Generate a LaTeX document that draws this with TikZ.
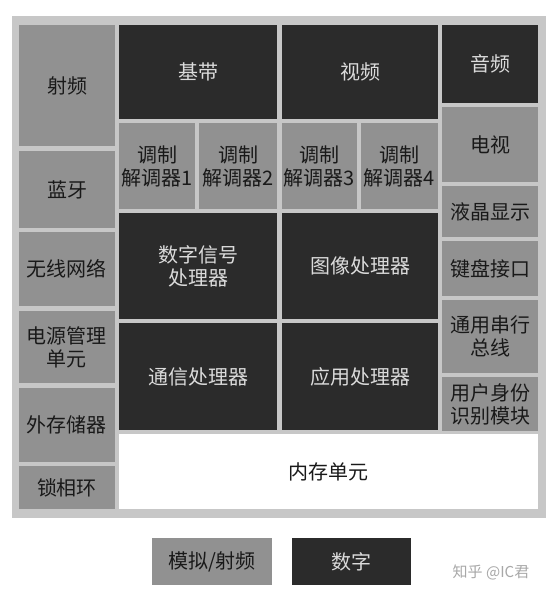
\documentclass[tikz,border=0pt]{standalone}
\usepackage{fontspec}
\newfontfamily\cjk{Noto Sans CJK SC}
\definecolor{framegray}{gray}{0.78}
\definecolor{anagray}{gray}{0.57}
\definecolor{diggray}{gray}{0.17}
\definecolor{digtext}{gray}{0.86}
\definecolor{marktext}{gray}{0.66}
\tikzset{
  blk/.style={draw=none, inner sep=0pt, outer sep=0pt, anchor=north west, align=center,
              font=\cjk\fontsize{20}{23}\selectfont},
  ana/.style={blk, fill=anagray, text=black!90},
  dig/.style={blk, fill=diggray, text=digtext},
  mem/.style={blk, fill=white, text=black!90},
  frm/.style={fill=framegray, draw=none},
}
\begin{document}
\begin{tikzpicture}[x=1pt, y=-1pt]
\useasboundingbox (0,0) rectangle (549,595);
\fill[white] (0,0) rectangle (549,595);
\fill[frm] (12,16) rectangle (546,518);
% left column
\node[ana, minimum width=96pt, minimum height=121pt] (rf)   at (19,25)  {射频};
\node[ana, minimum width=96pt, minimum height=77pt]  (bt)   at (19,151) {蓝牙};
\node[ana, minimum width=96pt, minimum height=74pt]  (wlan) at (19,232) {无线网络};
\node[ana, minimum width=96pt, minimum height=72pt]  (pmu)  at (19,311) {电源管理\\单元};
\node[ana, minimum width=96pt, minimum height=74pt]  (ext)  at (19,388) {外存储器};
\node[ana, minimum width=96pt, minimum height=43pt]  (pll)  at (19,466) {锁相环};
% middle-left
\node[dig, minimum width=158pt, minimum height=94pt]  (bb)   at (119,25)  {基带};
\node[ana, minimum width=76pt,  minimum height=86pt]  (mod1) at (119,123) {调制\\解调器1};
\node[ana, minimum width=78pt,  minimum height=86pt]  (mod2) at (199,123) {调制\\解调器2};
\node[dig, minimum width=158pt, minimum height=106pt] (dsp)  at (119,213) {数字信号\\处理器};
\node[dig, minimum width=158pt, minimum height=107pt] (cp)   at (119,323) {通信处理器};
% middle-right
\node[dig, minimum width=156pt, minimum height=94pt]  (vid)  at (282,25)  {视频};
\node[ana, minimum width=75pt,  minimum height=86pt]  (mod3) at (282,123) {调制\\解调器3};
\node[ana, minimum width=77pt,  minimum height=86pt]  (mod4) at (361,123) {调制\\解调器4};
\node[dig, minimum width=156pt, minimum height=106pt] (img)  at (282,213) {图像处理器};
\node[dig, minimum width=156pt, minimum height=107pt] (ap)   at (282,323) {应用处理器};
% right column
\node[dig, minimum width=96pt, minimum height=78pt] (aud) at (442,25)  {音频};
\node[ana, minimum width=96pt, minimum height=75pt] (tv)  at (442,107) {电视};
\node[ana, minimum width=96pt, minimum height=51pt] (lcd) at (442,186) {液晶显示};
\node[ana, minimum width=96pt, minimum height=55pt] (kbd) at (442,241) {键盘接口};
\node[ana, minimum width=96pt, minimum height=73pt] (usb) at (442,300) {通用串行\\总线};
\node[ana, minimum width=96pt, minimum height=54pt] (sim) at (442,377) {用户身份\\识别模块};
% memory
\node[mem, minimum width=419pt, minimum height=75pt] (ram) at (119,434) {内存单元};
% legend
\node[ana, minimum width=120pt, minimum height=47pt] (lega) at (152,538) {模拟/射频};
\node[dig, minimum width=119pt, minimum height=47pt] (legd) at (292,538) {数字};
\node[font=\cjk\fontsize{15}{18}\selectfont, text=marktext, inner sep=0pt] (wm) at (491,572) {知乎 @IC君};
\end{tikzpicture}
\end{document}
